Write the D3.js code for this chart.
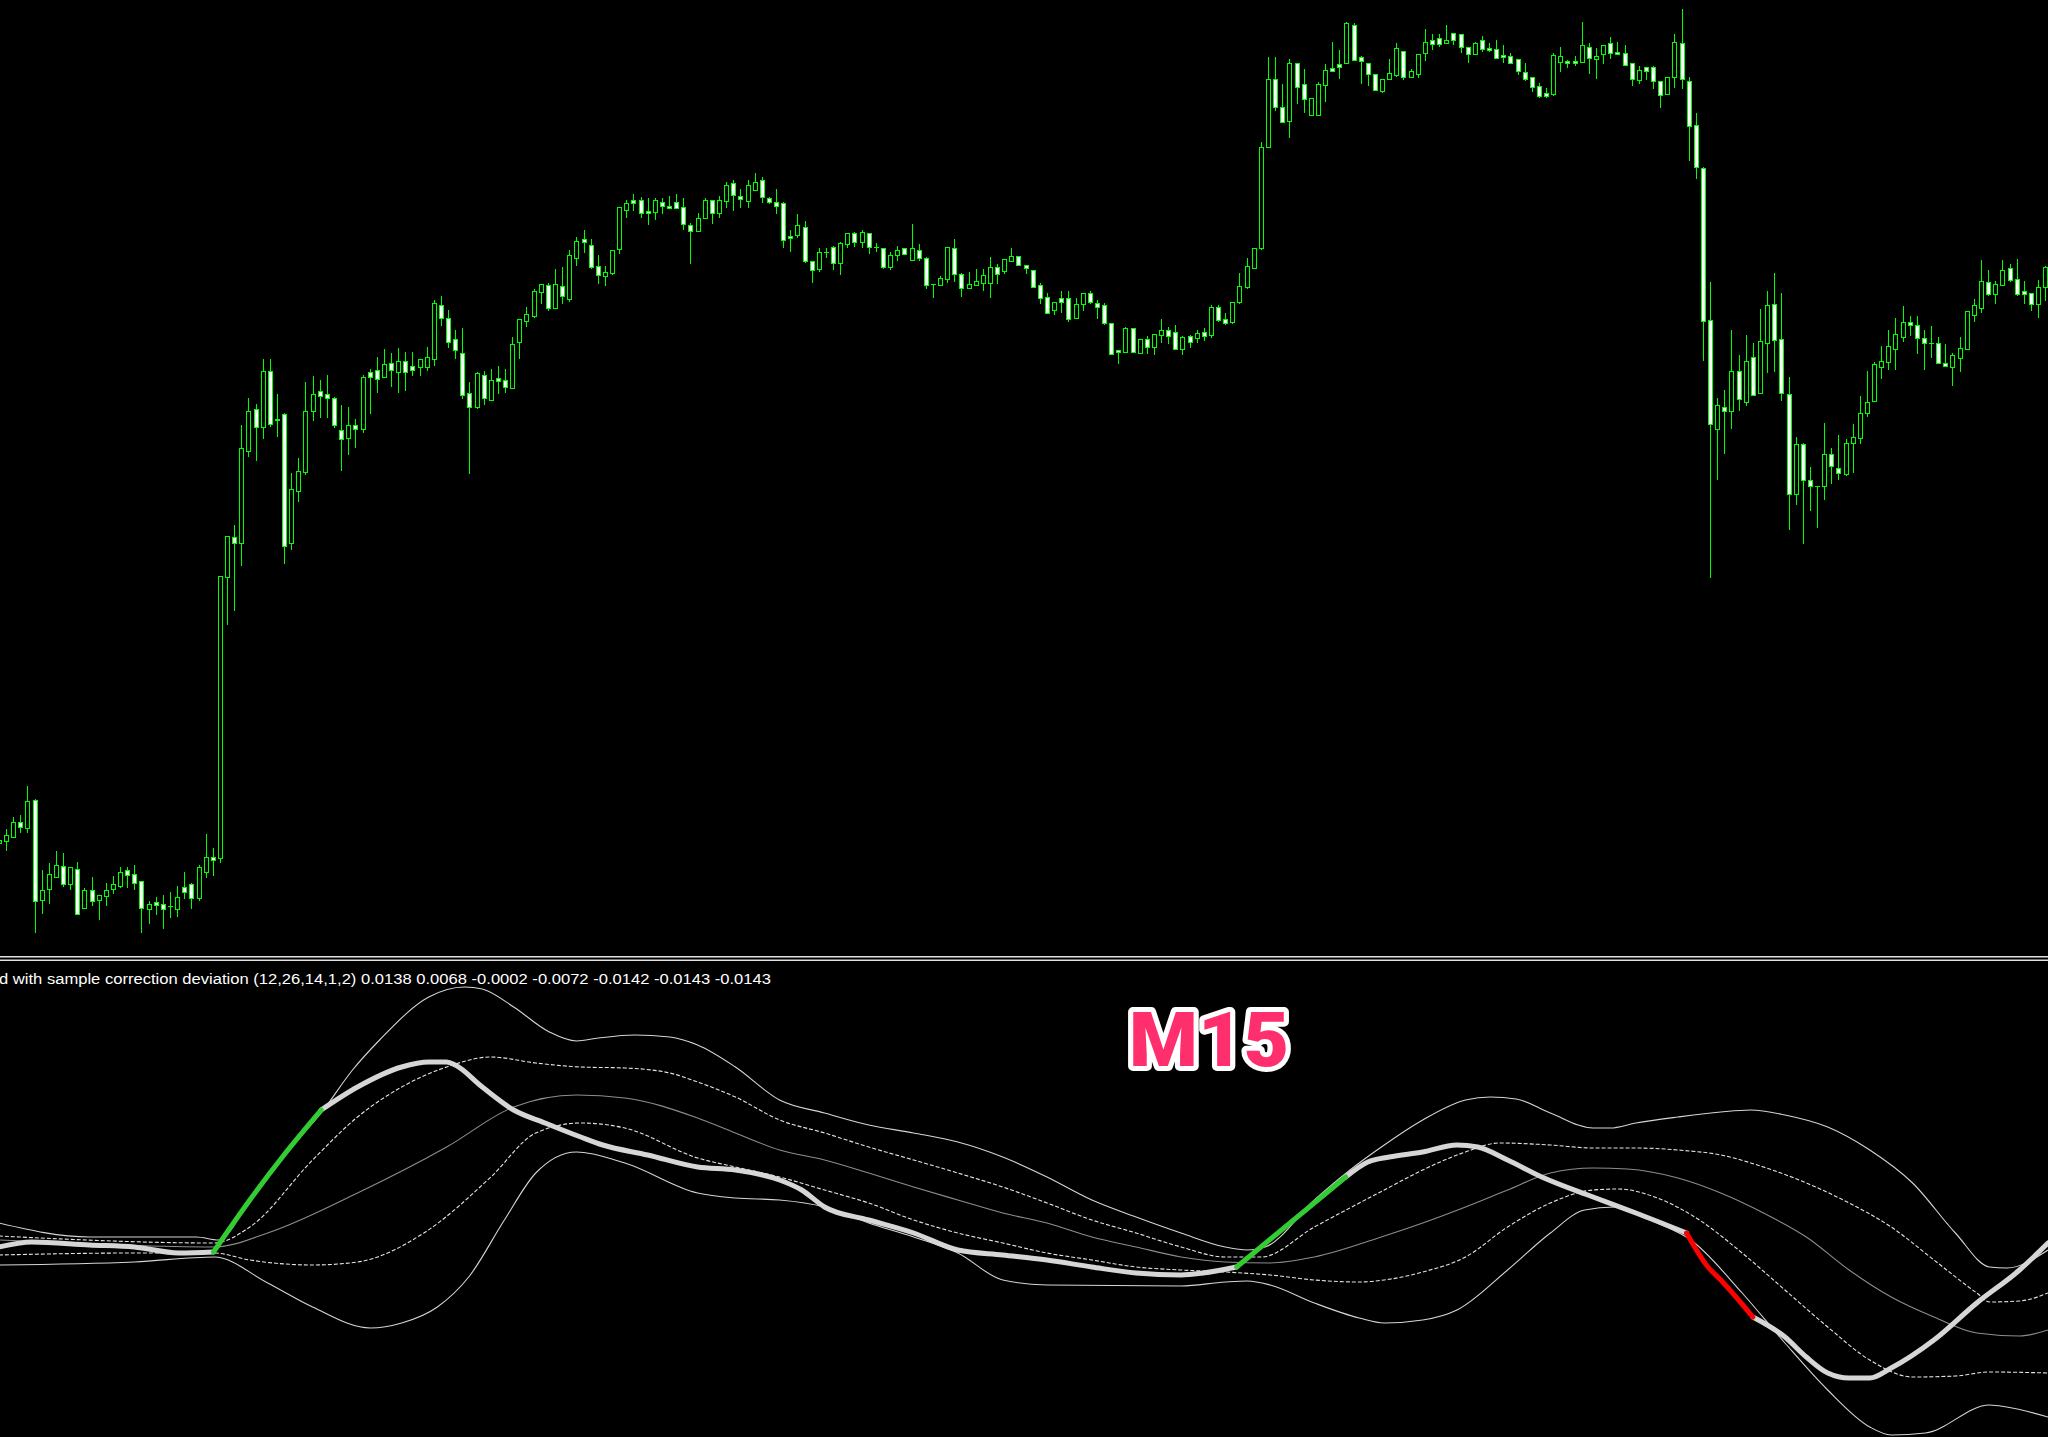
<!DOCTYPE html>
<html><head><meta charset="utf-8">
<script src="https://cdn.jsdelivr.net/npm/d3@7"></script>
<style>html,body{margin:0;padding:0;background:#000;overflow:hidden}</style>
</head><body>
<svg id="chart" width="2048" height="1437"></svg>
<script>
// ---- price data (M15 bars, first partially visible bar is -1) ----
const firstBar = -1;
const open = [109.157,109.159,109.163,109.178,109.172,109.200,109.100,109.111,109.123,109.134,
109.116,109.131,109.092,109.110,109.100,109.104,109.111,109.114,109.130,109.126,
109.119,109.091,109.098,109.096,109.094,109.091,109.113,109.116,109.102,109.128,
109.143,109.142,109.423,109.463,109.457,109.549,109.591,109.573,109.629,109.581,
109.586,109.457,109.509,109.528,109.589,109.609,109.606,109.602,109.570,109.562,
109.575,109.571,109.628,109.630,109.623,109.637,109.628,109.639,109.634,109.633,
109.633,109.641,109.695,109.682,109.661,109.647,109.607,109.593,109.625,109.600,
109.622,109.620,109.612,109.658,109.679,109.684,109.708,109.715,109.692,109.714,
109.701,109.742,109.761,109.755,109.734,109.724,109.727,109.751,109.790,109.800,
109.800,109.789,109.788,109.798,109.794,109.798,109.793,109.775,109.769,109.782,
109.800,109.787,109.799,109.817,109.804,109.799,109.810,109.820,109.802,109.798,
109.797,109.764,109.765,109.773,109.739,109.731,109.748,109.753,109.737,109.756,
109.767,109.758,109.767,109.753,109.752,109.733,109.745,109.752,109.740,109.750,
109.742,109.716,109.715,109.721,109.752,109.726,109.712,109.715,109.717,109.717,
109.733,109.729,109.739,109.744,109.735,109.730,109.715,109.703,109.690,109.702,
109.702,109.682,109.696,109.707,109.697,109.695,109.677,109.650,109.648,109.672,
109.647,109.661,109.653,109.665,109.670,109.668,109.651,109.664,109.662,109.668,
109.665,109.693,109.681,109.678,109.698,109.713,109.732,109.752,109.853,109.921,
109.893,109.879,109.937,109.916,109.885,109.885,109.915,109.932,109.936,109.937,
109.975,109.943,109.937,109.926,109.909,109.921,109.925,109.949,109.923,109.926,
109.947,109.960,109.962,109.957,109.967,109.966,109.953,109.946,109.960,109.952,
109.951,109.945,109.944,109.941,109.928,109.923,109.914,109.907,109.906,109.938,
109.939,109.939,109.938,109.953,109.941,109.946,109.957,109.948,109.947,109.937,
109.920,109.933,109.933,109.919,109.906,109.923,109.957,109.919,109.875,109.832,
109.680,109.571,109.593,109.589,109.629,109.598,109.643,109.607,109.657,109.696,
109.661,109.606,109.506,109.556,109.520,109.514,109.514,109.546,109.532,109.526,
109.557,109.562,109.587,109.599,109.633,109.638,109.651,109.663,109.678,109.675,
109.662,109.657,109.657,109.637,109.633,109.642,109.651,109.685,109.692,109.718,
109.706,109.715,109.732,109.721,109.709,109.707,109.696,109.713];
const high = [109.162,109.171,109.183,109.185,109.214,109.201,109.130,109.137,109.149,109.147,
109.133,109.138,109.112,109.123,109.105,109.117,109.124,109.133,109.133,109.135,
109.119,109.099,109.103,109.105,109.108,109.114,109.128,109.117,109.135,109.166,
109.152,109.424,109.464,109.475,109.575,109.602,109.596,109.641,109.641,109.606,
109.587,109.527,109.542,109.618,109.624,109.620,109.625,109.603,109.595,109.593,
109.581,109.625,109.631,109.643,109.651,109.647,109.652,109.648,109.648,109.641,
109.653,109.700,109.704,109.690,109.670,109.672,109.618,109.628,109.629,109.631,
109.634,109.631,109.663,109.681,109.693,109.711,109.716,109.717,109.731,109.733,
109.750,109.763,109.770,109.761,109.745,109.734,109.750,109.793,109.800,109.806,
109.803,109.802,109.802,109.802,109.804,109.806,109.802,109.777,109.787,109.802,
109.800,109.804,109.818,109.820,109.811,109.820,109.827,109.823,109.803,109.811,
109.798,109.770,109.786,109.779,109.739,109.752,109.752,109.754,109.758,109.767,
109.768,109.770,109.767,109.757,109.752,109.748,109.754,109.752,109.776,109.756,
109.743,109.716,109.724,109.753,109.761,109.727,109.728,109.731,109.731,109.743,
109.736,109.741,109.752,109.744,109.735,109.730,109.717,109.707,109.698,109.709,
109.709,109.702,109.707,109.709,109.700,109.697,109.677,109.650,109.673,109.672,
109.661,109.664,109.666,109.681,109.673,109.675,109.664,109.665,109.670,109.672,
109.695,109.695,109.687,109.698,109.727,109.742,109.752,109.858,109.943,109.943,
109.916,109.941,109.937,109.931,109.902,109.918,109.936,109.958,109.950,109.978,
109.977,109.944,109.937,109.926,109.921,109.941,109.957,109.949,109.931,109.946,
109.971,109.966,109.966,109.975,109.967,109.966,109.953,109.958,109.964,109.957,
109.960,109.955,109.947,109.941,109.937,109.923,109.917,109.912,109.947,109.953,
109.940,109.944,109.978,109.957,109.952,109.955,109.963,109.958,109.955,109.937,
109.934,109.933,109.934,109.919,109.923,109.966,109.991,109.923,109.887,109.833,
109.718,109.602,109.610,109.670,109.645,109.665,109.657,109.691,109.709,109.727,
109.707,109.623,109.563,109.557,109.533,109.514,109.577,109.552,109.565,109.561,
109.576,109.604,109.629,109.638,109.654,109.670,109.682,109.694,109.684,109.684,
109.670,109.674,109.663,109.656,109.647,109.663,109.689,109.701,109.740,109.730,
109.719,109.740,109.736,109.741,109.719,109.707,109.720,109.734];
const low = [109.156,109.150,109.163,109.168,109.168,109.068,109.087,109.097,109.123,109.114,
109.111,109.086,109.092,109.095,109.081,109.095,109.107,109.113,109.113,109.111,
109.068,109.077,109.086,109.072,109.083,109.084,109.102,109.092,109.100,109.123,
109.125,109.138,109.376,109.390,109.435,109.544,109.540,109.562,109.574,109.564,
109.437,109.451,109.499,109.526,109.580,109.583,109.583,109.573,109.530,109.546,
109.553,109.568,109.587,109.608,109.623,109.614,109.608,109.610,109.625,109.625,
109.630,109.635,109.675,109.653,109.642,109.602,109.527,109.592,109.596,109.600,
109.607,109.608,109.612,109.642,109.674,109.683,109.697,109.690,109.692,109.697,
109.699,109.735,109.748,109.732,109.717,109.715,109.726,109.747,109.783,109.790,
109.783,109.776,109.781,109.787,109.792,109.792,109.771,109.737,109.769,109.782,
109.777,109.783,109.793,109.790,109.793,109.793,109.810,109.798,109.797,109.787,
109.753,109.749,109.763,109.738,109.718,109.729,109.743,109.731,109.726,109.753,
109.754,109.753,109.747,109.749,109.732,109.731,109.740,109.746,109.740,109.740,
109.712,109.703,109.715,109.718,109.719,109.704,109.712,109.715,109.710,109.703,
109.717,109.727,109.739,109.735,109.727,109.713,109.697,109.687,109.686,109.688,
109.679,109.682,109.690,109.697,109.682,109.676,109.646,109.637,109.648,109.648,
109.647,109.647,109.646,109.658,109.657,109.651,109.646,109.653,109.658,109.660,
109.663,109.679,109.676,109.677,109.697,109.712,109.732,109.751,109.853,109.890,
109.878,109.863,109.897,109.888,109.885,109.885,109.899,109.929,109.922,109.937,
109.940,109.917,109.915,109.910,109.908,109.921,109.924,109.921,109.923,109.923,
109.940,109.951,109.954,109.957,109.956,109.948,109.938,109.946,109.949,109.949,
109.942,109.938,109.937,109.926,109.920,109.909,109.903,109.903,109.905,109.929,
109.933,109.935,109.938,109.927,109.922,109.937,109.942,109.946,109.935,109.915,
109.917,109.921,109.912,109.893,109.906,109.913,109.912,109.840,109.822,109.640,
109.423,109.521,109.547,109.572,109.590,109.595,109.605,109.607,109.628,109.629,
109.600,109.471,109.496,109.457,109.490,109.473,109.501,109.517,109.521,109.525,
109.528,109.557,109.584,109.599,109.622,109.631,109.631,109.659,109.665,109.647,
109.631,109.643,109.637,109.634,109.615,109.629,109.651,109.679,109.688,109.705,
109.697,109.715,109.719,109.705,109.697,109.690,109.683,109.700];
const close = [109.160,109.165,109.178,109.173,109.199,109.099,109.110,109.126,109.135,109.116,
109.133,109.086,109.110,109.099,109.105,109.110,109.116,109.128,109.125,109.117,
109.092,109.096,109.095,109.091,109.094,109.103,109.108,109.102,109.133,109.143,
109.140,109.424,109.464,109.457,109.552,109.589,109.573,109.629,109.576,109.580,
109.454,109.511,109.529,109.589,109.606,109.604,109.602,109.575,109.561,109.575,
109.571,109.623,109.623,109.621,109.636,109.630,109.639,109.628,109.630,109.641,
109.643,109.697,109.682,109.658,109.650,109.605,109.593,109.627,109.602,109.620,
109.619,109.613,109.656,109.681,109.686,109.709,109.716,109.692,109.716,109.704,
109.745,109.759,109.758,109.733,109.725,109.728,109.750,109.793,109.797,109.797,
109.787,109.787,109.800,109.794,109.792,109.792,109.776,109.769,109.782,109.800,
109.787,109.800,109.815,109.805,109.801,109.815,109.818,109.803,109.798,109.794,
109.760,109.762,109.775,109.739,109.730,109.748,109.748,109.737,109.757,109.767,
109.758,109.768,109.753,109.753,109.733,109.745,109.750,109.746,109.752,109.742,
109.715,109.716,109.722,109.753,109.726,109.712,109.716,109.719,109.725,109.733,
109.726,109.741,109.744,109.735,109.732,109.713,109.702,109.687,109.698,109.698,
109.681,109.696,109.707,109.698,109.693,109.677,109.646,109.648,109.672,109.648,
109.661,109.653,109.666,109.670,109.664,109.651,109.663,109.658,109.667,109.664,
109.693,109.680,109.677,109.698,109.714,109.734,109.752,109.853,109.921,109.893,
109.878,109.937,109.913,109.901,109.902,109.916,109.930,109.929,109.933,109.977,
109.940,109.939,109.926,109.910,109.921,109.927,109.952,109.923,109.929,109.946,
109.958,109.956,109.956,109.960,109.960,109.953,109.946,109.957,109.951,109.950,
109.942,109.943,109.937,109.929,109.921,109.913,109.904,109.904,109.945,109.944,
109.937,109.937,109.955,109.942,109.944,109.955,109.947,109.946,109.935,109.921,
109.930,109.929,109.919,109.905,109.923,109.958,109.921,109.874,109.833,109.679,
109.576,109.595,109.589,109.629,109.601,109.639,109.605,109.659,109.695,109.660,
109.607,109.506,109.556,109.520,109.514,109.514,109.546,109.534,109.527,109.557,
109.563,109.587,109.598,109.636,109.639,109.654,109.666,109.678,109.675,109.662,
109.657,109.657,109.637,109.634,109.645,109.652,109.689,109.695,109.719,109.706,
109.716,109.730,109.720,109.706,109.706,109.696,109.713,109.733];

// ---- indicator lines: [bar, value] ----
const upperBand = [[-1,-0.0023],[11.7,-0.0037],[26.7,-0.0037],[29.8,-0.0040],[34.2,0.0000],[39.2,0.0047],[44.2,0.0087],[48.6,0.0130],[52.4,0.0160],[59.3,0.0203],[64.3,0.0213],[66.8,0.0211],[71.2,0.0193],[76.2,0.0168],[80,0.0159],[83.1,0.0162],[88.1,0.0165],[93.1,0.0163],[97,0.0155],[102.3,0.0133],[108.5,0.0100],[114.8,0.0087],[121,0.0075],[127.3,0.0067],[133.5,0.0058],[139.8,0.0043],[146,0.0023],[152.3,0.0000],[158.5,-0.0017],[164.8,-0.0033],[171,-0.0047],[174.1,-0.0050],[176.6,-0.0047],[183.5,0.0000],[188.5,0.0030],[193.3,0.0055],[198.7,0.0080],[204.7,0.0100],[208.2,0.0103],[211.8,0.0101],[216.6,0.0087],[222.6,0.0072],[225,0.0072],[228.6,0.0077],[234.5,0.0083],[240.5,0.0088],[244.7,0.0090],[249.5,0.0085],[255.5,0.0073],[261.4,0.0050],[267.4,0.0017],[273.4,-0.0033],[278.2,-0.0067],[280.6,-0.0068],[286.4,-0.0050]];
const upperDev = [[-1,-0.0036],[29.2,-0.0043],[34.2,-0.0027],[43,0.0040],[49.3,0.0083],[55.5,0.0113],[61.8,0.0133],[68,0.0143],[74.3,0.0137],[80.6,0.0133],[86.8,0.0132],[93.1,0.0127],[97,0.0118],[102.3,0.0103],[108.5,0.0080],[114.8,0.0067],[121,0.0053],[127.3,0.0040],[133.5,0.0027],[139.8,0.0013],[146,-0.0003],[152.3,-0.0020],[158.5,-0.0033],[164.8,-0.0047],[171,-0.0057],[176,-0.0057],[183.5,-0.0027],[193.3,0.0010],[198.7,0.0030],[204.7,0.0048],[209.4,0.0057],[216.6,0.0055],[222.6,0.0052],[228.6,0.0052],[234.5,0.0050],[240.5,0.0045],[246.5,0.0033],[252.5,0.0017],[258.5,-0.0003],[264.4,-0.0027],[270.4,-0.0060],[276.4,-0.0093],[278.2,-0.0102],[282.4,-0.0101],[286.4,-0.0093]];
const midLine = [[-1,-0.0040],[29.2,-0.0047],[36.7,-0.0033],[49.3,0.0007],[61.8,0.0053],[71.2,0.0093],[80,0.0105],[86.8,0.0102],[97,0.0082],[102.3,0.0067],[108.5,0.0050],[114.8,0.0040],[121,0.0027],[127.3,0.0013],[133.5,0.0000],[139.8,-0.0013],[146,-0.0023],[152.3,-0.0037],[158.5,-0.0047],[164.8,-0.0057],[171,-0.0062],[177.3,-0.0063],[183.5,-0.0057],[193.3,-0.0036],[198.7,-0.0023],[204.7,-0.0007],[210.6,0.0010],[216.6,0.0027],[222.6,0.0032],[227.4,0.0031],[234.5,0.0022],[240.5,0.0007],[246.5,-0.0013],[252.5,-0.0037],[258.5,-0.0070],[264.4,-0.0097],[270.4,-0.0117],[276.4,-0.0133],[282.4,-0.0136],[286.4,-0.0130]];
const lowerDev = [[-1,-0.0055],[18,-0.0053],[29.2,-0.0053],[34.2,-0.0060],[43,-0.0065],[49.3,-0.0062],[58.6,-0.0033],[68,0.0023],[74.3,0.0067],[80.6,0.0077],[86.8,0.0072],[97,0.0042],[102.3,0.0033],[108.5,0.0023],[114.8,0.0010],[121,-0.0003],[127.3,-0.0020],[133.5,-0.0033],[139.8,-0.0043],[146,-0.0053],[152.3,-0.0060],[158.5,-0.0067],[164.8,-0.0070],[171,-0.0072],[177.3,-0.0075],[183.5,-0.0080],[189.8,-0.0082],[193.3,-0.0080],[198.7,-0.0072],[204.7,-0.0057],[210.6,-0.0027],[216.6,-0.0003],[222.6,0.0010],[226.2,0.0011],[231.6,0.0002],[237.5,-0.0020],[243.5,-0.0053],[249.5,-0.0090],[255.5,-0.0127],[261.4,-0.0160],[267.4,-0.0177],[273.4,-0.0176],[278.2,-0.0172],[286.4,-0.0173]];
const lowerBand = [[-1,-0.0065],[18,-0.0062],[29.2,-0.0057],[36.7,-0.0083],[43,-0.0107],[51.1,-0.0128],[55.5,-0.0123],[60.5,-0.0107],[64.9,-0.0077],[69.9,-0.0020],[74.3,0.0027],[80,0.0048],[86.8,0.0037],[97,0.0007],[102.3,0.0002],[108.5,0.0000],[114.8,-0.0007],[121,-0.0023],[127.3,-0.0037],[133.5,-0.0053],[139.8,-0.0080],[146,-0.0085],[164.8,-0.0086],[171,-0.0082],[174.1,-0.0081],[177.3,-0.0085],[183.5,-0.0103],[189.8,-0.0118],[193.3,-0.0123],[198.7,-0.0120],[203.5,-0.0110],[210.6,-0.0070],[216.6,-0.0033],[221.4,-0.0010],[225.6,-0.0007],[231.6,-0.0023],[236.3,-0.0040],[243.5,-0.0093],[249.5,-0.0143],[255.5,-0.0190],[261.4,-0.0227],[264.4,-0.0235],[269.2,-0.0233],[278.2,-0.0205],[280.6,-0.0207],[286.4,-0.0217]];
const mainLine = [[-1,-0.0047],[3.6,-0.0042],[11.7,-0.0045],[18,-0.0047],[24.2,-0.0053],[29.1,-0.0052],[34.2,0.0000],[39.2,0.0047],[44.2,0.0090],[49.3,0.0113],[55.5,0.0133],[59.3,0.0138],[61.8,0.0138],[63,0.0135],[66.8,0.0113],[71.2,0.0090],[75.6,0.0077],[80.6,0.0063],[83.7,0.0055],[90,0.0045],[97,0.0033],[102.3,0.0030],[108.5,0.0020],[111.6,0.0010],[114.8,-0.0007],[121,-0.0020],[127.3,-0.0033],[133.5,-0.0050],[139.8,-0.0055],[146,-0.0060],[152.3,-0.0067],[158.5,-0.0073],[164.8,-0.0075],[167.9,-0.0073],[172.6,-0.0067],[187.9,0.0023],[191,0.0038],[194,0.0043],[198.7,0.0048],[203.5,0.0055],[206.4,0.0053],[210.6,0.0040],[215.4,0.0023],[222.6,0.0003],[228.6,-0.0013],[235.7,-0.0033],[238.7,-0.0067],[240.5,-0.0080],[245,-0.0117],[249.5,-0.0137],[252.5,-0.0157],[255.5,-0.0173],[258.5,-0.0178],[261.4,-0.0178],[264.4,-0.0168],[270.4,-0.0140],[276.4,-0.0103],[282.4,-0.0070],[286.4,-0.0043]];
const risingRanges = [[29.1,44.2],[172.6,187.9]];
const fallingRanges = [[235.7,245]];

const labelName = "d with sample correction deviation (12,26,14,1,2)";
const labelValues = ["0.0138","0.0068","-0.0002","-0.0072","-0.0142","-0.0143","-0.0143"];
const timeframe = "M15";

// ---- drawing ----
const W = 2048, H = 1437;
const svg = d3.select("#chart");
svg.append("rect").attr("width", W).attr("height", H).attr("fill", "#000");

const bars = d3.range(open.length).map(k => k + firstBar);
const x = d3.scaleLinear().domain([-1, 286]).range([-1.13, 2045.18]);
const y = d3.scaleLinear().domain([109.044, 110.0]).range([956, 0]);
const yi = d3.scaleLinear().domain([-0.0237, 0.0238]).range([1437, 962]);

const candles = bars.map((b, k) => ({b, o: open[k], h: high[k], l: low[k], c: close[k]}));
const LIME = "#00FF00";
const cg = svg.append("g").attr("shape-rendering", "crispEdges");
const cx = d => Math.round(x(d.b));
cg.selectAll("line.wick").data(candles).join("line")
  .attr("x1", d => cx(d) + 0.5).attr("x2", d => cx(d) + 0.5)
  .attr("y1", d => Math.round(y(Math.max(d.h, d.o, d.c))))
  .attr("y2", d => Math.round(y(Math.min(d.l, d.o, d.c))) + 1)
  .attr("stroke", LIME).attr("stroke-width", 1);
cg.selectAll("rect.body").data(candles).join("rect")
  .attr("x", d => cx(d) - 2 + 0.5)
  .attr("width", 4)
  .attr("y", d => Math.round(y(Math.max(d.o, d.c))) + 0.5)
  .attr("height", d => Math.max(0.01, Math.round(y(Math.min(d.o, d.c))) - Math.round(y(Math.max(d.o, d.c)))))
  .attr("fill", d => d.c >= d.o ? "#000" : "#FFFFFF")
  .attr("stroke", LIME).attr("stroke-width", 1);

// window separator
svg.append("rect").attr("x", 0).attr("y", 956).attr("width", W).attr("height", 1.5).attr("fill", "#E0E0E0");
svg.append("rect").attr("x", 0).attr("y", 959.5).attr("width", W).attr("height", 1.5).attr("fill", "#E0E0E0");

// indicator
const ig = svg.append("g");
const line = d3.line().x(d => x(d[0])).y(d => yi(d[1])).curve(d3.curveMonotoneX);
const thin = [
  {data: upperBand, color: "#D4D4D4", dash: null},
  {data: lowerBand, color: "#D4D4D4", dash: null},
  {data: midLine, color: "#8C8C8C", dash: null},
  {data: upperDev, color: "#E4E4E4", dash: "4,2"},
  {data: lowerDev, color: "#E4E4E4", dash: "4,2"}
];
thin.forEach(t => {
  ig.append("path").attr("d", line(t.data)).attr("fill", "none")
    .attr("stroke", t.color).attr("stroke-width", 1.1)
    .attr("stroke-dasharray", t.dash);
});

const colored = [
  ...risingRanges.map(r => ({r, col: "#33CC33"})),
  ...fallingRanges.map(r => ({r, col: "#FF0000"}))
];
const cuts = new Set(colored.flatMap(c => c.r));
const segs = [];
let cur = [mainLine[0]];
for (let j = 1; j < mainLine.length; j++) {
  cur.push(mainLine[j]);
  if (cuts.has(mainLine[j][0]) && j < mainLine.length - 1) { segs.push(cur); cur = [mainLine[j]]; }
}
segs.push(cur);
const segInfo = segs.map(s => {
  const mid = (s[0][0] + s[s.length - 1][0]) / 2;
  const c = colored.find(c => mid > c.r[0] && mid < c.r[1]);
  return {s, col: c ? c.col : "#D6D6D6", colored: !!c};
});
segInfo.filter(d => !d.colored).concat(segInfo.filter(d => d.colored)).forEach(d => {
  ig.append("path").attr("d", line(d.s)).attr("fill", "none")
    .attr("stroke", d.col).attr("stroke-width", 5)
    .attr("stroke-linecap", "round").attr("stroke-linejoin", "round");
});

// indicator label
svg.append("text").attr("x", -1).attr("y", 984)
  .attr("fill", "#FFFFFF")
  .attr("font-family", "'Liberation Sans', Arial, sans-serif")
  .attr("font-size", 14)
  .attr("textLength", 772).attr("lengthAdjust", "spacingAndGlyphs")
  .text(labelName + " " + labelValues.join(" "));

// timeframe badge
svg.append("text").attr("x", 1209).attr("y", 1066)
  .attr("text-anchor", "middle")
  .attr("font-family", "Roboto, 'Open Sans', Lato, sans-serif")
  .attr("font-weight", 900).attr("font-size", 76)
  .attr("textLength", 160).attr("lengthAdjust", "spacingAndGlyphs")
  .attr("fill", "#FF2F6E").attr("stroke", "#FFFFFF").attr("stroke-width", 10)
  .attr("stroke-linejoin", "round").attr("paint-order", "stroke")
  .text(timeframe);
</script>
</body></html>
